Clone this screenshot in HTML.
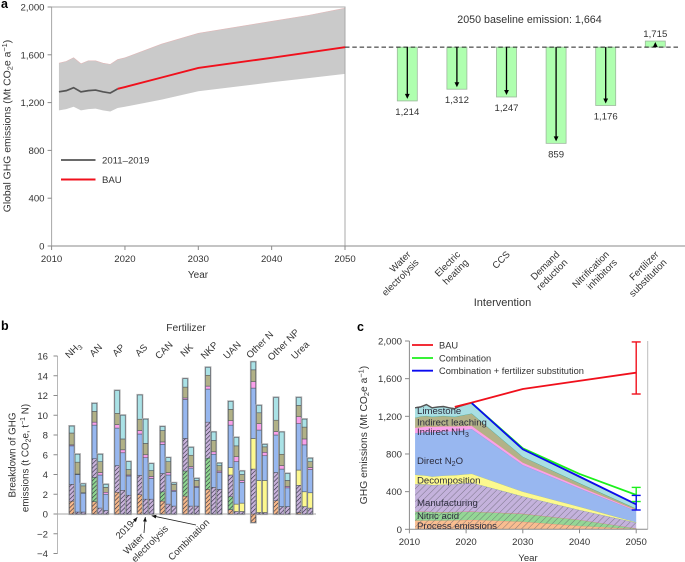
<!DOCTYPE html>
<html>
<head>
<meta charset="utf-8">
<title>GHG emissions chart</title>
<style>
html,body{margin:0;padding:0;background:#fff;}
svg{display:block;font-family:"Liberation Sans",sans-serif;font-size:9.6px;fill:#333;}
svg text{fill:#333;}
</style>
</head>
<body>
<svg id="chart" xmlns="http://www.w3.org/2000/svg" width="685" height="562" viewBox="0 0 685 562">
<defs>
<pattern id="hb" patternUnits="userSpaceOnUse" width="3" height="3" patternTransform="rotate(45)"><line x1="0" y1="0" x2="0" y2="3" stroke="#2c2c3c" stroke-width="1.2"/></pattern>
<pattern id="ha" patternUnits="userSpaceOnUse" width="4.5" height="4.5" patternTransform="rotate(45)"><line x1="0" y1="0" x2="0" y2="4.5" stroke="#5c5c66" stroke-width="0.7"/></pattern>
</defs>
<g id="panel-a">
<text x="1" y="8" style="font-size:12.5px;font-weight:bold;fill:#000">a</text>
<text transform="translate(10.5,126) rotate(-90)" text-anchor="middle" style="font-size:10.4px">Global GHG emissions (Mt CO<tspan dy="2" style="font-size:7.4px">2</tspan><tspan dy="-2">e a</tspan><tspan dy="-3.5" style="font-size:7.4px">−1</tspan><tspan dy="3.5">)</tspan></text>
<text x="198" y="278" text-anchor="middle" style="font-size:10px">Year</text>
<text x="502.5" y="306" text-anchor="middle" style="font-size:11px">Intervention</text>
<text x="529.5" y="23" text-anchor="middle" style="font-size:10.7px">2050 baseline emission: 1,664</text>
</g>
<g id="panel-b">
<text x="1" y="330" style="font-size:12.5px;font-weight:bold;fill:#000">b</text>
<text x="186" y="331" text-anchor="middle" style="font-size:10.3px">Fertilizer</text>
<text transform="translate(15.5,455) rotate(-90)" text-anchor="middle" style="font-size:9.8px">Breakdown of GHG</text>
<text transform="translate(28.5,458) rotate(-90)" text-anchor="middle" style="font-size:9.8px">emissions (t CO<tspan dy="2" style="font-size:7px">2</tspan><tspan dy="-2">e, t</tspan><tspan dy="-3.5" style="font-size:7px">−1</tspan><tspan dy="3.5"> N)</tspan></text>
</g>
<g id="panel-c">
<text x="357" y="331" style="font-size:12.5px;font-weight:bold;fill:#000">c</text>
<text transform="translate(367,435) rotate(-90)" text-anchor="middle" style="font-size:10.3px">GHG emissions (Mt CO<tspan dy="2" style="font-size:7.4px">2</tspan><tspan dy="-2">e a</tspan><tspan dy="-3.5" style="font-size:7.4px">−1</tspan><tspan dy="3.5">)</tspan></text>
<text x="528" y="561" text-anchor="middle">Year</text>
</g>
<g id="overlay"></g>
</svg>
<script>
// Panel a data
var aTickYears = [2010, 2020, 2030, 2040, 2050];
var aTickValues = [0, 400, 800, 1200, 1600, 2000];
var aTickLabels = ['0', '400', '800', '1,200', '1,600', '2,000'];
var bandYears = [2011, 2012, 2013, 2014, 2015, 2016, 2017, 2018, 2019, 2020, 2025, 2030, 2040, 2045, 2050];
var bandUpper = [1530, 1545, 1575, 1525, 1550, 1550, 1530, 1520, 1560, 1575, 1690, 1780, 1880, 1930, 1990];
var bandLower = [1135, 1145, 1165, 1135, 1145, 1150, 1135, 1125, 1155, 1165, 1225, 1295, 1370, 1405, 1440];
var histYears = [2011, 2012, 2013, 2014, 2015, 2016, 2017, 2018, 2019];
var histValues = [1290, 1300, 1325, 1290, 1300, 1305, 1290, 1280, 1315];
var bauYears = [2019, 2020, 2025, 2030, 2040, 2050];
var bauValues = [1315, 1330, 1410, 1490, 1575, 1664];
var baselineValue = 1664;
var interventions = [['Water', 'electrolysis'], ['Electric', 'heating'], ['CCS'], ['Demand', 'reduction'], ['Nitrification', 'inhibitors'], ['Fertilizer', 'substitution']];
var interventionValues = [1214, 1312, 1247, 859, 1176, 1715];
var interventionLabels = ['1,214', '1,312', '1,247', '859', '1,176', '1,715'];

// Panel b data: one value per bar (2019, water electrolysis, combination per fertilizer)
var fertilizers = ['NH3', 'AN', 'AP', 'AS', 'CAN', 'NK', 'NKP', 'UAN', 'Other N', 'Other NP', 'Urea'];
var bTickValues = [-4, -2, 0, 2, 4, 6, 8, 10, 12, 14, 16];
var bTickLabels = ['−4', '−2', '0', '2', '4', '6', '8', '10', '12', '14', '16'];
var bProcess = [1.3,0,0, 1.25,0,0, 2.2,0,0, 1.95,0,0, 1.3,0,0, 1.8,0,0, 2.5,0,0, 0.45,0,0, -0.85,0,0, 1.35,0,0, 0.15,0,0];
var bNitric = [0,0,0, 2.45,0,0, 0,0,0, 0,0,0, 0.95,0,0, 2.55,0,0, 3.15,0,0, 1.3,0,0, 0,0,0, 0,0,0, 0,0,0];
var bManufacturing = [1.7,0.2,0.2, 1.9,0.6,0.35, 2.7,2.4,1.9, 1.95,1.5,1.5, 1.85,1,0.8, 3.3,0.8,0.8, 3.65,2.7,2.5, 2.2,0.25,0.25, 4.55,0.15,0.15, 2.85,0.75,0.75, 2.75,0.75,0.6];
var bDecomposition = [0,0,0, 0,0,0, 0,0,0, 0,0,0, 0,0,0, 0,0,0, 0,0,0, 0.75,0.75,0.85, 3.1,3.25,3.25, 0,0,0, 1.55,1.5,1.55];
var bDirect = [3.9,3.8,1.9, 3.4,3.35,1.65, 3.8,3.8,1.95, 4.2,4.2,2.1, 2.95,2.95,1.5, 3.95,3.85,1.9, 3.35,3.35,1.7, 4.3,4.3,2.1, 5.1,5.1,2.5, 3.8,3.8,1.9, 4.7,4.75,2.35];
var bIndirectNH3 = [0.1,0.05,0.05, 0.3,0.25,0.2, 0.35,0.3,0.1, 0.35,0.3,0.2, 0.25,0.25,0.1, 0.15,0.15,0.1, 0.3,0.25,0.15, 0.45,0.5,0.2, 0.65,0.65,0.35, 0.35,0.35,0.15, 0.7,0.6,0.2];
var bLeaching = [1.2,1.2,0.7, 1.1,1.1,0.5, 1.15,1.1,0.55, 1.15,1.15,0.6, 1.15,1.1,0.6, 1.1,1.15,0.6, 1.1,1.15,0.55, 1.15,1.1,0.6, 1.2,1.1,0.55, 1.15,1.15,0.6, 1.15,1.2,0.6];
var bLimestone = [0.7,0.8,0.2, 0.8,0.75,0.3, 2.3,2.4,0.8, 2.45,2.45,0.7, 0.4,0.4,0.15, 0.85,0.8,0.2, 0.8,0.85,0.25, 0.8,0.85,0.35, 0.8,0.75,0.25, 2.3,2.25,0.7, 0.8,0.8,0.35];

// Panel c data
var cTickYears = [2010, 2020, 2030, 2040, 2050];
var cTickValues = [0, 400, 800, 1200, 1600, 2000];
var cTickLabels = ['0', '400', '800', '1,200', '1,600', '2,000'];
var areaYears = [2011, 2012, 2013, 2014, 2016, 2018, 2021, 2030, 2040, 2050];
var cProcess = [92, 92, 92, 92, 92, 95, 100, 80, 35, 5];
var cNitric = [96, 96, 96, 93, 90, 90, 88, 85, 65, 5];
var cManufacturing = [292, 290, 290, 285, 293, 295, 307, 185, 105, 60];
var cDecomposition = [100, 97, 92, 90, 95, 95, 95, 50, 35, 5];
var cDirect = [440, 450, 465, 470, 470, 465, 475, 283, 195, 120];
var cIndirectNH3 = [60, 60, 60, 60, 55, 55, 35, 27, 20, 10];
var cLeaching = [105, 115, 110, 105, 110, 100, 130, 60, 35, 15];
var cLimestone = [110, 105, 120, 95, 95, 90, 110, 80, 60, 38];
var cBauYears = [2018, 2021, 2030, 2050];
var cBauValues = [1300, 1345, 1490, 1664];
var cComboYears = [2021, 2030, 2040, 2050];
var cComboValues = [1340, 860, 588, 365];
var cSubYears = [2021, 2030, 2040, 2050];
var cSubValues = [1340, 850, 560, 265];
var errYear = 2050;
var errBau = [1437, 1990];
var errCombo = [295, 445];
var errSub = [205, 360];

var svg = document.getElementById('chart');
var NS = 'http://www.w3.org/2000/svg';
function mk(tag, attrs, parent) {
  var el = document.createElementNS(NS, tag);
  for (var k in attrs) el.setAttribute(k, attrs[k]);
  (parent || svg).appendChild(el);
  return el;
}
function poly(xs, ys) {
  return xs.map(function (x, i) { return x.toFixed(2) + ',' + ys[i].toFixed(2); }).join(' ');
}
function labelText(parent, str, x, y, anchor, rot) {
  var attrs = { 'text-anchor': anchor };
  if (rot) attrs.transform = 'translate(' + x + ',' + y + ') rotate(' + rot + ')';
  else { attrs.x = x; attrs.y = y; }
  var t = mk('text', attrs, parent);
  t.textContent = str;
  return t;
}
var AXIS = '#8a8a8a';

/* ---------- Panel a ---------- */
function ax(y) { return 51.6 + (y - 2010) * (345 - 51.6) / 40; }
function ay(v) { return 246 - v * 239 / 2000; }
var ga = document.getElementById('panel-a');

var band = mk('polygon', {
  points: poly(bandYears.map(ax).concat(bandYears.slice().reverse().map(ax)),
    bandUpper.map(ay).concat(bandLower.slice().reverse().map(ay))),
  fill: '#cacaca', stroke: 'none' }, ga);



var bandTop = mk('polyline', { points: poly(bandYears.map(ax), bandUpper.map(ay)), fill: 'none', stroke: '#e0b8b8', 'stroke-width': 0.6 }, ga);



var frameA = mk('polyline', { points: poly([ax(2010), ax(2010), ax(2050), ax(2050)], [ay(0), ay(2000), ay(2000), ay(0)]), fill: 'none', stroke: '#a8a8a8', 'stroke-width': 1 }, ga);



var xAxisA = mk('line', { x1: ax(2010), x2: 685, y1: ay(0), y2: ay(0), stroke: AXIS, 'stroke-width': 1 }, ga);



aTickYears.forEach(function (yr) {
  var t = mk('line', { x1: ax(yr), x2: ax(yr), y1: ay(0), y2: ay(0) + 4, stroke: AXIS, 'stroke-width': 1 }, ga);
  
  
  var l = labelText(ga, String(yr), ax(yr), 262, 'middle');
  
  
});
aTickValues.forEach(function (v, i) {
  var t = mk('line', { x1: ax(2010) - 4, x2: ax(2010), y1: ay(v), y2: ay(v), stroke: AXIS, 'stroke-width': 1 }, ga);
  
  
  var l = labelText(ga, aTickLabels[i], 44.5, ay(v) + 3.5, 'end');
  
  
});

var hist = mk('polyline', { points: poly(histYears.map(ax), histValues.map(ay)), fill: 'none', stroke: '#555', 'stroke-width': 1.7 }, ga);



var bau = mk('polyline', { points: poly(bauYears.map(ax), bauValues.map(ay)), fill: 'none', stroke: '#f0101c', 'stroke-width': 1.9 }, ga);



var lg1 = mk('line', { x1: 61, x2: 95.5, y1: 160, y2: 160, stroke: '#555', 'stroke-width': 1.7 }, ga);


var lg1t = labelText(ga, '2011–2019', 102, 163.5, 'start');


var lg2 = mk('line', { x1: 61, x2: 95.5, y1: 179.5, y2: 179.5, stroke: '#f0101c', 'stroke-width': 1.9 }, ga);


var lg2t = labelText(ga, 'BAU', 102, 183, 'start');



function catX(i) { return 407.3 + i * 49.6; }
var BARW = 20;
interventionValues.forEach(function (v, i) {
  var top = Math.min(ay(v), ay(baselineValue));
  var h = Math.abs(ay(v) - ay(baselineValue));
  var b = mk('rect', { x: catX(i) - BARW / 2, y: top, width: BARW, height: h, fill: '#afffaf', stroke: '#9cb89c', 'stroke-width': 0.8 }, ga);
  
  
});

var dash = mk('line', { x1: ax(2050), x2: 680, y1: ay(baselineValue), y2: ay(baselineValue), stroke: '#222', 'stroke-width': 1, 'stroke-dasharray': '4.5 2.8' }, ga);



interventionValues.forEach(function (v, i) {
  var x = catX(i), up = v > baselineValue;
  var y0 = ay(baselineValue), y1 = up ? ay(v) + 1 : ay(v) - 2;
  var dir = up ? 1 : -1;
  var shaft = mk('line', { x1: x, x2: x, y1: y0, y2: y1 + dir * 3, stroke: '#000', 'stroke-width': 1.3 }, ga);
  
  
  var head = mk('polygon', { points: poly([x, x - 2.4, x + 2.4], [y1, y1 + dir * 5, y1 + dir * 5]), fill: '#000' }, ga);
  
  
  var ly = up ? ay(v) - 4 : ay(v) + 14;
  var l = labelText(ga, interventionLabels[i], x, ly, 'middle');
  
  
  var lines = interventions[i];
  lines.forEach(function (str, j) {
    var t = labelText(ga, str, x + 4 + j * 8, 255 + j * 8, 'end', -45);
    
    
  });
});

/* ---------- Panel b ---------- */
function by(v) { return 514 - v * 9.875; }
function barX(i) { return 69.4 + Math.floor(i / 3) * 22.7 + (i % 3) * 5.7; }
var gb = document.getElementById('panel-b');
var bSeries = [
  { n: 'process', a: bProcess, c: '#f8b98a', h: 1 },
  { n: 'nitric-acid', a: bNitric, c: '#8fd890', h: 1 },
  { n: 'manufacturing', a: bManufacturing, c: '#c9b3dc', h: 1 },
  { n: 'decomposition', a: bDecomposition, c: '#fdf88f', h: 0 },
  { n: 'direct-n2o', a: bDirect, c: '#97b7ef', h: 0 },
  { n: 'indirect-nh3', a: bIndirectNH3, c: '#f9a0ea', h: 0 },
  { n: 'indirect-leaching', a: bLeaching, c: '#b1b187', h: 0 },
  { n: 'limestone', a: bLimestone, c: '#aae2e6', h: 0 }
];
var yAxisB = mk('line', { x1: 57.5, x2: 57.5, y1: by(16), y2: by(-4), stroke: '#b8b8b8', 'stroke-width': 1 }, gb);


bTickValues.forEach(function (v, i) {
  var t = mk('line', { x1: 53.5, x2: 57.5, y1: by(v), y2: by(v), stroke: AXIS, 'stroke-width': 1 }, gb);
  
  
  var l = labelText(gb, bTickLabels[i], 48, by(v) + 3.5, 'end');
  
  
});
var zeroB = mk('line', { x1: 57.5, x2: 316, y1: by(0), y2: by(0), stroke: '#b8b8b8', 'stroke-width': 1.2 }, gb);



var BW = 4.7;
bProcess.forEach(function (_, i) {
  var pos = 0, neg = 0, x = barX(i);
  var total = 0, low = 0;
  bSeries.forEach(function (s) { if (s.a[i] > 0) total += s.a[i]; else low += s.a[i]; });
  var halo = mk('rect', { x: x - 0.3, y: by(total) - 0.3, width: BW + 0.6, height: by(low) - by(total) + 0.6, fill: 'none', stroke: '#b0b0b0', 'stroke-width': 1.6 }, gb);
  
  
  bSeries.forEach(function (s) {
    var v = s.a[i];
    if (!v) return;
    var y0, y1;
    if (v > 0) { y0 = by(pos + v); y1 = by(pos); pos += v; }
    else { y0 = by(neg); y1 = by(neg + v); neg += v; }
    var r = mk('rect', { x: x, y: y0, width: BW, height: y1 - y0, fill: s.c, stroke: '#4e5560', 'stroke-width': 0.55 }, gb);
    
    
    if (s.h) {
      var o = mk('rect', { x: x, y: y0, width: BW, height: y1 - y0, fill: 'url(#hb)' }, gb);
      
      
    }
  });
});
fertilizers.forEach(function (f, g) {
  var x = barX(g * 3) + 6;
  var cy = f.length > 4 ? 344 : 349.5;
  var cx = x + (f.length > 4 ? 5 + (f === 'Other NP' ? 1 : 0) : 0);
  var t = mk('text', { transform: 'translate(' + (cx) + ',' + (cy + 3) + ') rotate(-45)', 'text-anchor': 'middle' }, gb);
  
  
  if (f === 'NH3') {
    t.appendChild(document.createTextNode('NH'));
    var sub = mk('tspan', { dy: 2, style: 'font-size:7px' }, t);
    sub.textContent = '3';
  } else {
    t.textContent = f;
  }
});

var annText = [['2019', 127, 532], ['Water', 136, 546], ['electrolysis', 152, 546], ['Combination', 191, 542]];
var annotations = document.getElementById('overlay');
annText.forEach(function (a, i) {
  var t = labelText(annotations, a[0], a[1], a[2], 'middle', -45);
  
  
});
var annArrowsFrom = [[132.7, 523], [144, 533], [196, 525]];
var annArrowsTo = [[137.3, 517.3], [145.3, 517], [151.7, 515.7]];
annArrowsFrom.forEach(function (p, i) {
  var q = annArrowsTo[i];
  var l = mk('line', { x1: p[0], y1: p[1], x2: q[0], y2: q[1], stroke: '#222', 'stroke-width': 0.8 }, annotations);
  
  
  var ang = Math.atan2(q[1] - p[1], q[0] - p[0]);
  var bx = q[0] - 4.5 * Math.cos(ang), by2 = q[1] - 4.5 * Math.sin(ang);
  var nx = -Math.sin(ang) * 1.9, ny = Math.cos(ang) * 1.9;
  var h = mk('polygon', { points: poly([q[0], bx + nx, bx - nx], [q[1], by2 + ny, by2 - ny]), fill: '#111' }, annotations);
  
  
});

/* ---------- Panel c ---------- */
function cx(y) { return 409.4 + (y - 2010) * 5.67; }
function cy(v) { return 529.3 - v * 188.3 / 2000; }
var gc = document.getElementById('panel-c');
var cSeries = [
  { n: 'process', a: cProcess, c: '#f9bd90', h: 1, e: '#e88a70' },
  { n: 'nitric-acid', a: cNitric, c: '#94d695', h: 1, e: '#d8706a' },
  { n: 'manufacturing', a: cManufacturing, c: '#c4b2dc', h: 1, e: '#7aa0a8' },
  { n: 'decomposition', a: cDecomposition, c: '#fdf98e', h: 0, e: '#a5c08a' },
  { n: 'direct-n2o', a: cDirect, c: '#98b7f0', h: 0, e: '#9a8ad8' },
  { n: 'indirect-nh3', a: cIndirectNH3, c: '#f9a2ea', h: 0, e: '#e8a070' },
  { n: 'indirect-leaching', a: cLeaching, c: '#b2b288', h: 0, e: '#3aa898' },
  { n: 'limestone', a: cLimestone, c: '#a9dfe3', h: 0, e: '#666' }
];
var lower = areaYears.map(function () { return 0; });
var xs = areaYears.map(cx);
cSeries.forEach(function (s) {
  var upper = lower.map(function (v, i) { return v + s.a[i]; });
  var pts = poly(xs.concat(xs.slice().reverse()), upper.map(cy).concat(lower.slice().reverse().map(cy)));
  var a = mk('polygon', { points: pts, fill: s.c }, gc);
  
  
  if (s.h) {
    var o = mk('polygon', { points: pts, fill: 'url(#ha)' }, gc);
    
    
  }
  var e = mk('polyline', { points: poly(xs, upper.map(cy)), fill: 'none', stroke: s.e, 'stroke-width': 0.6 }, gc);
  
  
  lower = upper;
});

var yAxisC = mk('line', { x1: 409.4, x2: 409.4, y1: cy(2000), y2: cy(0), stroke: AXIS, 'stroke-width': 1 }, gc);


var rightC = mk('line', { x1: 647.7, x2: 647.7, y1: cy(2000), y2: cy(0), stroke: '#bdbdbd', 'stroke-width': 1 }, gc);


var xAxisC = mk('line', { x1: 409.4, x2: 647.7, y1: cy(0), y2: cy(0), stroke: AXIS, 'stroke-width': 1 }, gc);


cTickYears.forEach(function (yr) {
  var t = mk('line', { x1: cx(yr), x2: cx(yr), y1: cy(0), y2: cy(0) + 4, stroke: AXIS, 'stroke-width': 1 }, gc);
  
  
  var l = labelText(gc, String(yr), cx(yr), 545, 'middle');
  
  
});
cTickValues.forEach(function (v, i) {
  var t = mk('line', { x1: 405, x2: 409.4, y1: cy(v), y2: cy(v), stroke: AXIS, 'stroke-width': 1 }, gc);
  
  
  var l = labelText(gc, cTickLabels[i], 402, cy(v) + 3.5, 'end');
  
  
});

var histC = mk('polyline', { points: poly(histYears.map(cx), histValues.map(cy)), fill: 'none', stroke: '#555', 'stroke-width': 1.4 }, gc);


var lineBau = mk('polyline', { points: poly(cBauYears.map(cx), cBauValues.map(cy)), fill: 'none', stroke: '#f0101c', 'stroke-width': 1.8 }, gc);


var lineCombo = mk('polyline', { points: poly(cComboYears.map(cx), cComboValues.map(cy)), fill: 'none', stroke: '#1bf01b', 'stroke-width': 1.8 }, gc);


var lineSub = mk('polyline', { points: poly(cSubYears.map(cx), cSubValues.map(cy)), fill: 'none', stroke: '#0a0af0', 'stroke-width': 1.8 }, gc);



[[errBau, '#f0101c', 'bau'], [errCombo, '#1bf01b', 'combination'], [errSub, '#0a0af0', 'substitution']].forEach(function (e) {
  var x = cx(errYear);
  var v = mk('line', { x1: x, x2: x, y1: cy(e[0][0]), y2: cy(e[0][1]), stroke: e[1], 'stroke-width': 1.4 }, gc);
  
  
  e[0].forEach(function (val, j) {
    var c = mk('line', { x1: x - 4.5, x2: x + 4.5, y1: cy(val), y2: cy(val), stroke: e[1], 'stroke-width': 1.4 }, gc);
    
    
  });
});

[['BAU', '#f0101c', 345, 'bau'], ['Combination', '#1bf01b', 358, 'combination'], ['Combination + fertilizer substitution', '#0a0af0', 370.7, 'substitution']].forEach(function (e) {
  var s = mk('line', { x1: 412, x2: 433, y1: e[2], y2: e[2], stroke: e[1], 'stroke-width': 1.8 }, gc);
  
  
  var t = labelText(gc, e[0], 439, e[2] + 3.5, 'start');
  t.setAttribute('style', 'font-size:9.3px');
  
  
});

[['Limestone', 414], ['Indirect leaching', 425.5], ['Indirect NH', 435, '3'], ['Direct N', 464, '2', 'O'], ['Decomposition', 483.5], ['Manufacturing', 506], ['Nitric acid', 519], ['Process emissions', 529]].forEach(function (e, i) {
  var t = mk('text', { x: 417, y: e[1], style: 'fill:#2c2c3c' }, gc);
  
  
  t.appendChild(document.createTextNode(e[0]));
  if (e[2]) {
    var sb = mk('tspan', { dy: 2, style: 'font-size:7px;fill:#2c2c3c' }, t);
    sb.textContent = e[2];
  }
  if (e[3]) {
    var rest = mk('tspan', { dy: -2, style: 'fill:#2c2c3c' }, t);
    rest.textContent = e[3];
  }
});
</script>
</body>
</html>
